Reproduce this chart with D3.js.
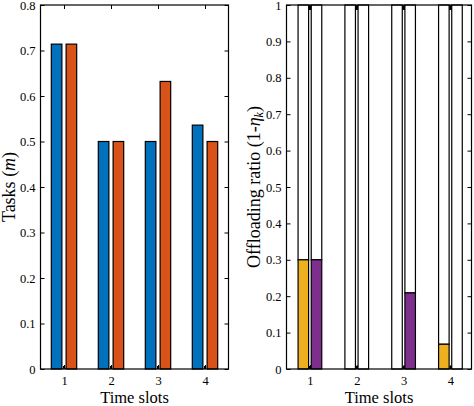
<!DOCTYPE html>
<html lang="en">
<head>
<meta charset="utf-8">
<title>tasks and offloading</title>
<script src="https://cdn.jsdelivr.net/npm/d3@7"></script>
<style>
body { margin:0; background:#fff; }
svg text { font-family:"Liberation Serif", "Times New Roman", serif; fill:#000; }
</style>
</head>
<body>
<svg id="paper" width="474" height="406"></svg>
<script>
// data
var slots = [1, 2, 3, 4];
var tasksA = [0.714, 0.5, 0.5, 0.536];
var tasksB = [0.714, 0.5, 0.632, 0.5];
var ratioA = [0.3, 0, 0, 0.068];
var ratioB = [0.3, 0, 0.209, 0];
var tasksTicks = [0, 0.1, 0.2, 0.3, 0.4, 0.5, 0.6, 0.7, 0.8];
var ratioTicks = [0, 0.1, 0.2, 0.3, 0.4, 0.5, 0.6, 0.7, 0.8, 0.9, 1];

var svg = d3.select("#paper");
var top0 = 5, bot0 = 369;
var serif = '"Liberation Serif", "Times New Roman", serif';

function panel(opt) {
  var x = d3.scaleLinear().domain(opt.xdom).range([opt.left, opt.right]);
  var y = d3.scaleLinear().domain([0, opt.ymax]).range([bot0, top0]);
  var g = svg.append("g");
  var bw = 0.225, gap = opt.gap;

  opt.series.forEach(function(s, k) {
    var off = k == 0 ? -gap - bw : gap;
    // white upper part of the stack (up to 1)
    if (opt.stackTo) {
      g.selectAll(null).data(s.vals).enter().append("rect")
        .attr("x", function(d, i) { return x(slots[i] + off); })
        .attr("width", x(bw) - x(0))
        .attr("y", y(opt.stackTo))
        .attr("height", function(d) { return y(d) - y(opt.stackTo); })
        .attr("fill", "#fff").attr("stroke", "#000").attr("stroke-width", 1.2);
    }
    g.selectAll(null).data(s.vals).enter().append("rect")
      .attr("x", function(d, i) { return x(slots[i] + off); })
      .attr("width", x(bw) - x(0))
      .attr("y", function(d) { return y(d); })
      .attr("height", function(d) { return y(0) - y(d); })
      .attr("fill", s.color).attr("stroke", "#000").attr("stroke-width", 1.2);
  });

  // little black zero-bar marks at the group centre
  g.selectAll(null).data(slots).enter().append("rect")
    .attr("x", function(d) { return x(d) - 1; }).attr("width", 2.2)
    .attr("y", bot0 - 3).attr("height", 3).attr("fill", "#000");
  if (opt.stackTo) {
    g.selectAll(null).data(slots).enter().append("rect")
      .attr("x", function(d) { return x(d) - 1.2; }).attr("width", 2.5)
      .attr("y", y(opt.stackTo)).attr("height", 5).attr("fill", "#000");
  }

  g.append("g").attr("transform", "translate(" + opt.left + ",0)")
    .call(d3.axisLeft(y).tickValues(opt.yticks).tickSizeInner(-4).tickSizeOuter(0).tickPadding(5)
      .tickFormat(function(d) { return d3.format("")(+d.toFixed(1)); }));
  g.append("g").attr("transform", "translate(" + opt.right + ",0)")
    .call(d3.axisRight(y).tickValues(opt.yticks).tickSizeInner(-4).tickSizeOuter(0).tickFormat(""));
  g.append("g").attr("transform", "translate(0," + bot0 + ")")
    .call(d3.axisBottom(x).tickValues(slots).tickSizeInner(-4).tickSizeOuter(0).tickPadding(7).tickFormat(d3.format("d")));
  g.append("g").attr("transform", "translate(0," + top0 + ")")
    .call(d3.axisTop(x).tickValues(slots).tickSizeInner(-4).tickSizeOuter(0).tickFormat(""));
  g.selectAll(".domain").remove();
  g.selectAll(".tick line").attr("stroke", "#000");
  g.selectAll(".tick text").attr("font-family", serif).style("font-family", serif)
    .attr("font-size", 12.5).style("font-size", "12.5px");

  g.append("rect").attr("x", opt.left).attr("y", top0)
    .attr("width", opt.right - opt.left).attr("height", bot0 - top0)
    .attr("fill", "none").attr("stroke", "#000").attr("stroke-width", 1.2);

  g.append("text").attr("x", (opt.left + opt.right) / 2).attr("y", 403)
    .attr("text-anchor", "middle").style("font-size", "16.5px").text("Time slots");

  var yl = g.append("text").attr("transform", "translate(" + opt.ylx + "," + (top0 + bot0) / 2 + ") rotate(-90)")
    .attr("text-anchor", "middle").style("font-size", "18px");
  opt.ylabel(yl);
}

panel({
  left: 40.5, right: 228.5, xdom: [0.5, 4.5], ymax: 0.8, gap: 0.045, yticks: tasksTicks,
  series: [{vals: tasksA, color: "#0072BD"}, {vals: tasksB, color: "#D95319"}],
  ylx: 15,
  ylabel: function(t) {
    t.append("tspan").text("Tasks (");
    t.append("tspan").style("font-style", "italic").text("m");
    t.append("tspan").text(")");
  }
});

panel({
  left: 286.5, right: 471.5, xdom: [0.5, 4.45], ymax: 1, gap: 0.028, yticks: ratioTicks,
  stackTo: 1,
  series: [{vals: ratioA, color: "#EDB120"}, {vals: ratioB, color: "#7E2F8E"}],
  ylx: 259.5,
  ylabel: function(t) {
    t.append("tspan").text("Offloading ratio (1-");
    t.append("tspan").style("font-style", "italic").text("η");
    t.append("tspan").style("font-style", "italic").style("font-size", "12px").attr("dy", 3).text("k");
    t.append("tspan").attr("dy", -3).text(")");
  }
});
</script>
</body>
</html>
